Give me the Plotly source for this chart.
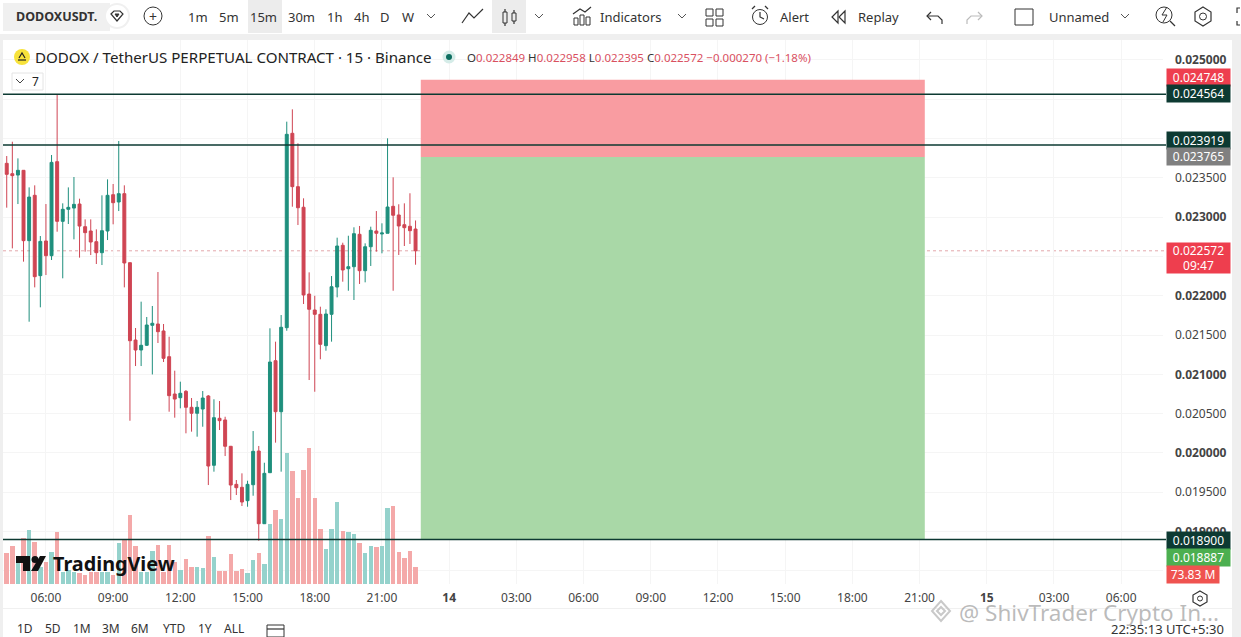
import numpy as np
import pandas as pd
import plotly.graph_objects as go

W = 1241
H = 637

# prices in millionths
opens = [23685, 23553, 23536, 23596, 22701, 23278, 22256, 22697, 22510, 23706, 22947, 23100, 23116, 23167, 22879, 22824, 22688, 22548, 22824, 23286, 23193, 23299, 22421, 21437, 21310, 21370, 21624, 21641, 21552, 21225, 20750, 20703, 20784, 20581, 20505, 20559, 20725, 19843, 20441, 20420, 20085, 19601, 19563, 19393, 19596, 20025, 19100, 19749, 21174, 20525, 21594, 24067, 23388, 23126, 22022, 21819, 21764, 21365, 21764, 22111, 22642, 22344, 22370, 22782, 22319, 22624, 22824, 22786, 22795, 23138, 23028, 22904, 22884, 22849]
highs = [23778, 23960, 23748, 23600, 23379, 23405, 22760, 23167, 23791, 24564, 23176, 23379, 23511, 23235, 22972, 22972, 22845, 23278, 23481, 23422, 23969, 23405, 22421, 21590, 21925, 21730, 21870, 22302, 21641, 21479, 21047, 20907, 20801, 20699, 20661, 20788, 20737, 20683, 20661, 20461, 20089, 19656, 19741, 19647, 20279, 20089, 19876, 21586, 21416, 21755, 24215, 24372, 23940, 23240, 22298, 22000, 21861, 21828, 22251, 22739, 22675, 22764, 22871, 22888, 22667, 22879, 23078, 22922, 24003, 23507, 23164, 23176, 23304, 22958]
lows = [23121, 22603, 23167, 22434, 21670, 22107, 21853, 22264, 22455, 22815, 22222, 22913, 22718, 22485, 22561, 22518, 22404, 22391, 22709, 22909, 23078, 22107, 20410, 21106, 21106, 21361, 20999, 21399, 21157, 20525, 20449, 20568, 20250, 20271, 20207, 20334, 19592, 19762, 20292, 19961, 19401, 19465, 19325, 19316, 19456, 18884, 19096, 19745, 20131, 19762, 21555, 23133, 22900, 21895, 20928, 20779, 21192, 21301, 21416, 21980, 22179, 22064, 21946, 22150, 22171, 22379, 22561, 22540, 22795, 22064, 22519, 22633, 22659, 22395]
closes = [23545, 23528, 23596, 22701, 23256, 22243, 22692, 22510, 23697, 22947, 23100, 23125, 23163, 22887, 22803, 22684, 22548, 22828, 23278, 23184, 23299, 22417, 21428, 21310, 21370, 21628, 21650, 21543, 21204, 20729, 20686, 20759, 20581, 20505, 20581, 20699, 19834, 20449, 20411, 20085, 19592, 19558, 19376, 19601, 20021, 19100, 19741, 21157, 20525, 21599, 24054, 23388, 23120, 22010, 21828, 21764, 21382, 21768, 22115, 22633, 22328, 22370, 22790, 22319, 22624, 22833, 22795, 22799, 23129, 23024, 22888, 22866, 22828, 22572]
# volume in millions
volumes = [139, 170, 92, 202, 239, 188, 77, 99, 143, 232, 55, 62, 55, 47, 40, 55, 55, 55, 55, 40, 180, 198, 304, 170, 55, 55, 146, 173, 55, 173, 99, 62, 111, 77, 74, 69, 213, 118, 59, 59, 133, 59, 68, 50, 106, 139, 89, 266, 328, 286, 579, 501, 379, 504, 602, 382, 242, 155, 244, 365, 235, 230, 223, 180, 137, 170, 165, 170, 335, 347, 142, 117, 146, 74]

first_bar = "2025-11-13 04:15"
time_ticks = ["2025-11-13 06:00", "2025-11-13 09:00", "2025-11-13 12:00", "2025-11-13 15:00", "2025-11-13 18:00", "2025-11-13 21:00", "2025-11-14 00:00", "2025-11-14 03:00", "2025-11-14 06:00", "2025-11-14 09:00", "2025-11-14 12:00", "2025-11-14 15:00", "2025-11-14 18:00", "2025-11-14 21:00", "2025-11-15 00:00", "2025-11-15 03:00", "2025-11-15 06:00"]
time_labels = ["06:00", "09:00", "12:00", "15:00", "18:00", "21:00", "<b>14</b>", "03:00", "06:00", "09:00", "12:00", "15:00", "18:00", "21:00", "<b>15</b>", "03:00", "06:00"]
price_ticks = [0.025, 0.0245, 0.024, 0.0235, 0.023, 0.0225, 0.022, 0.0215, 0.021, 0.0205, 0.02, 0.0195, 0.019, 0.0185]
price_labels = ["<b>0.025000</b>", "", "", "0.023500", "<b>0.023000</b>", "", "<b>0.022000</b>", "0.021500", "<b>0.021000</b>", "0.020500", "<b>0.020000</b>", "0.019500", "<b>0.019000</b>", ""]

stop_price = 0.024748
entry_price = 0.023765
target_price = 0.0189
level_prices = [0.024564, 0.023919, 0.0189]
last_price = 0.022572
box_start = "2025-11-13 22:44"
box_end = "2025-11-14 21:14"

GREEN = "#1f8f7d"
RED = "#cf4553"
DARK = "#0d3a32"
TEXT = "#2a2e39"
FONT = "Noto Sans"

times = pd.date_range(first_bar, periods=len(opens), freq="15min")
o = np.array(opens) / 1e6
h = np.array(highs) / 1e6
l = np.array(lows) / 1e6
c = np.array(closes) / 1e6
vol_colors = ["#95d2cc" if c[i] >= o[i] else "#f4a9a9" for i in range(len(o))]


def px(x):
    return x / W


def py(y):
    return 1 - y / H


fig = go.Figure()
fig.add_trace(go.Bar(x=times, y=volumes, yaxis="y2", marker_color=vol_colors, marker_line_width=0,
                     width=720000, hoverinfo="skip"))
fig.add_trace(go.Candlestick(x=times, open=o, high=h, low=l, close=c,
                             increasing=dict(line=dict(color=GREEN, width=1), fillcolor=GREEN),
                             decreasing=dict(line=dict(color=RED, width=1), fillcolor=RED),
                             whiskerwidth=0))

shapes = []
notes = []


def label(text, x, y, size=13, color=TEXT, anchor="left", font=FONT, **kw):
    notes.append(dict(text=text, x=px(x), y=py(y), xref="paper", yref="paper", xanchor=anchor, yanchor="middle",
                      showarrow=False, font=dict(size=size, color=color, family=font), borderpad=0, **kw))


# flags sit at a pixel row because the app pushes them apart when they collide
def flag(text, y, color, height=16.5, width=63, x=1166, fg="white"):
    notes.append(dict(text=text, x=px(x), y=py(y), xref="paper", yref="paper", xanchor="left", yanchor="middle",
                      showarrow=False, font=dict(size=12, color=fg, family=FONT), bgcolor=color,
                      width=width, height=height, align="center", borderpad=0))


def rect(x0, y0, x1, y1, fill=None, line=None, lw=1):
    shapes.append(dict(type="rect", xref="paper", yref="paper", x0=px(x0), x1=px(x1), y0=py(y0), y1=py(y1),
                       fillcolor=fill or "rgba(0,0,0,0)", line=dict(color=line or "rgba(0,0,0,0)", width=lw)))


def circle(x, y, r, fill=None, line=None, lw=1):
    shapes.append(dict(type="circle", xref="paper", yref="paper", x0=px(x - r), x1=px(x + r), y0=py(y + r), y1=py(y - r),
                       fillcolor=fill or "rgba(0,0,0,0)", line=dict(color=line or "rgba(0,0,0,0)", width=lw)))


def poly(points, fill=None, line=TEXT, lw=1.2, close=False):
    path = "M " + " L ".join(f"{px(a):.5f} {py(b):.5f}" for a, b in points) + (" Z" if close else "")
    shapes.append(dict(type="path", xref="paper", yref="paper", path=path, fillcolor=fill or "rgba(0,0,0,0)",
                       line=dict(color=line or "rgba(0,0,0,0)", width=lw)))


def chevron(x, y, color="#555"):
    poly([(x - 4, y - 2), (x, y + 2), (x + 4, y - 2)], line=color, lw=1)


# grey frame between panels
rect(0, 34, W, 40, fill="#efefef")
rect(0, 34, 3, H, fill="#efefef")
rect(1232, 34, W, H, fill="#efefef")
rect(3, 608, 1232, 609, fill="#f0f0f0")

# toolbar
rect(3, 3, 110, 31, fill="#f0f0f0")
circle(117, 16, 13, fill="#f0f0f0")
circle(117, 16, 11, fill="white")
poly([(111, 14), (114, 11), (120, 11), (123, 14), (117, 21)], line="#333", lw=1.2, close=True)
poly([(115, 14), (119, 14), (117, 17)], fill="#333", line="#333", lw=1, close=True)
label("<b>DODOXUSDT.</b>", 15, 17, 12.5, "#333")
circle(153, 16, 9, line="#333")
label("+", 153, 16, 14, "#333", anchor="center")
rect(248, 0, 282, 33, fill="#ececec")
rect(492, 0, 526, 33, fill="#ececec")
for t, x in [("1m", 198), ("5m", 229), ("15m", 263), ("30m", 301), ("1h", 334), ("4h", 361), ("D", 385), ("W", 408)]:
    label(t, x, 17, 13, "#333", anchor="center")
chevron(431, 16)
poly([(462, 23), (469, 13), (474, 18), (483, 9)], line="#333")
for bx, by0, by1 in [(505, 12, 23), (514, 13, 21)]:
    poly([(bx, by0 - 3), (bx, by0)], line="#333")
    rect(bx - 2, by0, bx + 2, by1, line="#333")
    poly([(bx, by1), (bx, by1 + 3)], line="#333")
chevron(539, 16)
rect(574, 18, 578, 25, line="#333")
rect(580, 15, 584, 25, line="#333")
rect(586, 17, 590, 25, line="#333")
poly([(573, 14), (580, 9), (585, 12), (591, 7)], line="#333")
label("Indicators", 599, 17, 13, "#333")
chevron(682, 16)
for gx in [706, 716]:
    for gy in [9, 19]:
        rect(gx, gy, gx + 7, gy + 7, line="#333")
circle(760, 17, 7.5, line="#333")
poly([(760, 12), (760, 17), (764, 19)], line="#333")
poly([(752, 9), (755, 6)], line="#333")
poly([(768, 9), (765, 6)], line="#333")
label("Alert", 779, 17, 13, "#333")
poly([(838, 11), (832, 17), (838, 23)], line="#333", close=True)
poly([(845, 11), (839, 17), (845, 23)], line="#333", close=True)
label("Replay", 857, 17, 13, "#333")
poly([(931, 12), (927, 16), (931, 20)], line="#333")
poly([(927, 16), (938, 16), (942, 20), (942, 24)], line="#333")
poly([(978, 12), (982, 16), (978, 20)], line="#bbb")
poly([(982, 16), (971, 16), (967, 20), (967, 24)], line="#bbb")
rect(1015, 9, 1033, 25, line="#333")
label("Unnamed", 1048, 17, 13, "#333")
chevron(1125, 16)
circle(1164, 15, 8, line="#333")
poly([(1170, 21), (1175, 26)], line="#333")
poly([(1167, 7), (1162, 15), (1167, 15), (1163, 22)], line="#333", lw=1)
poly([(1203, 7), (1211, 12), (1211, 21), (1203, 26), (1195, 21), (1195, 12)], line="#333", close=True)
circle(1203, 16.5, 3.5, line="#333")
poly([(1240, 8), (1237, 8), (1237, 13)], line="#333")
poly([(1237, 21), (1237, 25), (1240, 25)], line="#333")

# legend row
circle(22, 57, 8, fill="#f7e23b")
poly([(18, 60), (26, 60)], line="#222", lw=1.2)
poly([(19, 58), (22, 53), (25, 58)], line="#222", lw=1.2)
label("DODOX / TetherUS PERPETUAL CONTRACT · 15 · Binance", 34, 57, 15.1, "#222")
circle(449, 57, 6.5, fill="#d5ece8")
circle(449, 57, 3, fill="#0d6e60")
vc = "#d9505f"
notes.append(dict(text=f"O<span style='color:{vc}'>0.022849</span> H<span style='color:{vc}'>0.022958</span> "
                       f"L<span style='color:{vc}'>0.022395</span> C<span style='color:{vc}'>0.022572 −0.000270 (−1.18%)</span>",
                  x=px(465), y=py(57), xref="paper", yref="paper", xanchor="left", yanchor="middle", showarrow=False,
                  font=dict(size=11.5, color="#333", family=FONT)))
rect(12, 73, 43, 90, fill="white", line="#e4e4e4")
chevron(20, 81, "#444")
label("7", 35, 81, 12, "#222", anchor="center")

# trade box and levels, drawn in price and time
shapes.append(dict(type="rect", xref="x", yref="y", x0=box_start, x1=box_end, y0=entry_price, y1=stop_price,
                   fillcolor="#f99ca1", line=dict(width=0)))
shapes.append(dict(type="rect", xref="x", yref="y", x0=box_start, x1=box_end, y0=target_price, y1=entry_price,
                   fillcolor="#a9d8a7", line=dict(width=0)))
for lv in level_prices:
    shapes.append(dict(type="line", xref="paper", yref="y", x0=px(3), x1=px(1166), y0=lv, y1=lv,
                       line=dict(color=DARK, width=1.5)))
shapes.append(dict(type="line", xref="paper", yref="y", x0=px(3), x1=px(1166), y0=last_price, y1=last_price,
                   layer="below", line=dict(color="#e3a7ac", width=1, dash="dot")))

# axis price flags
flag("0.024748", 77, "#ee3e4e")
flag("0.024564", 94, DARK)
flag("0.023919", 140, DARK)
flag("0.023765", 157, "#808080")
flag("0.022572<br>09:47", 258, "#ee3e4e", height=30)
flag("0.018900", 540, DARK)
flag("0.018887", 557, "#4caf50")
flag("73.83 M", 574, "#ef5350", width=52)

# tradingview logo
poly([(16, 556), (30, 556), (30, 571), (23, 571), (23, 563), (16, 563)], fill="#111", line=None, lw=0, close=True)
circle(35, 559.5, 3.5, fill="#111")
poly([(40, 556), (46, 556), (38, 571), (31, 571)], fill="#111", line=None, lw=0, close=True)
label("<b>TradingView</b>", 52, 563, 19.8, "#111")

# bottom bar
for t, x in [("1D", 25), ("5D", 53), ("1M", 82), ("3M", 111), ("6M", 140), ("YTD", 174), ("1Y", 205), ("ALL", 234)]:
    label(t, x, 628.5, 12, "#333", anchor="center")
rect(267, 625, 284, 637, line="#333")
poly([(267, 629), (284, 629)], line="#333")
label("22:35:13 UTC+5:30", 1225, 628.5, 13, "#333", anchor="right")
poly([(1200, 591), (1207, 595), (1207, 602), (1200, 606), (1193, 602), (1193, 595)], line="#333", close=True)
circle(1200, 598.5, 2.5, line="#333")

# watermark
poly([(941, 601), (950, 611), (941, 621), (932, 611)], line="#c9c9c9", lw=2, close=True)
poly([(941, 607), (945, 611), (941, 615), (937, 611)], line="#c9c9c9", lw=2, close=True)
label("@ ShivTrader Crypto In...", 958, 612, 22.5, "rgba(120,120,120,0.5)")

fig.update_layout(
    width=W,
    height=H,
    margin=dict(l=0, r=0, t=0, b=0),
    paper_bgcolor="white",
    plot_bgcolor="white",
    showlegend=False,
    bargap=0,
    boxgap=0.25,
    font=dict(family=FONT, size=12, color="#333"),
    xaxis=dict(domain=[px(3), px(1163)], type="date", range=["2025-11-13 04:05", "2025-11-15 07:52"],
               tickmode="array", tickvals=time_ticks, ticktext=time_labels, tickangle=0,
               showgrid=True, gridcolor="#f5f5f5", zeroline=False, showline=False, ticks="",
               rangeslider=dict(visible=False), ticklabelstandoff=5, tickfont=dict(size=12, color="#444"),
               anchor="y"),
    yaxis=dict(domain=[py(584), py(40)], range=[0.018333, 0.025254], side="right", anchor="x",
               tickmode="array", tickvals=price_ticks, ticktext=price_labels,
               showgrid=True, gridcolor="#f5f5f5", zeroline=False, showline=False, ticks="",
               ticklabelstandoff=11, tickfont=dict(size=12, color="#444")),
    yaxis2=dict(domain=[py(584), py(40)], range=[0, 2410], overlaying="y", anchor="x", side="left",
                visible=False),
    shapes=shapes,
    annotations=notes,
)

fig.write_html("out.html", config={"displayModeBar": False}, post_script="document.body.style.margin='0';")
